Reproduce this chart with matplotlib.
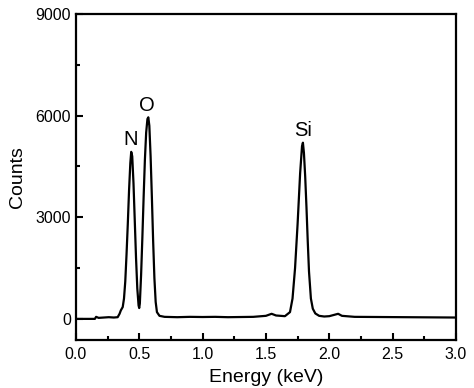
import matplotlib
matplotlib.use('Agg')
from matplotlib import pyplot as plt
from matplotlib.ticker import MultipleLocator, FormatStrFormatter

# EDS spectrum
energy = [0.00, 0.10, 0.15, 0.16, 0.18, 0.22, 0.26, 0.30, 0.33, 0.345,
          0.355, 0.37, 0.38, 0.39, 0.40, 0.41, 0.42, 0.43, 0.437, 0.445,
          0.455, 0.465, 0.475, 0.485, 0.495, 0.50, 0.505, 0.515, 0.525, 0.535,
          0.545, 0.555, 0.565, 0.572, 0.58, 0.59, 0.60, 0.61, 0.62, 0.63,
          0.64, 0.66, 0.70, 0.80, 0.90, 1.00, 1.10, 1.20, 1.30, 1.40,
          1.50, 1.545, 1.58, 1.65, 1.69, 1.71, 1.73, 1.75, 1.77, 1.785,
          1.792, 1.80, 1.81, 1.82, 1.83, 1.84, 1.855, 1.87, 1.89, 1.92,
          1.96, 2.00, 2.04, 2.07, 2.10, 2.20, 2.40, 2.60, 2.80, 3.00]
counts = [0, 0, 0, 60, 30, 40, 50, 40, 50, 150,
          250, 350, 600, 1100, 1900, 2800, 3800, 4600, 4930, 4800,
          4000, 2900, 1800, 900, 400, 320, 450, 1300, 2400, 3600,
          4700, 5500, 5900, 5950, 5700, 4800, 3600, 2300, 1200, 500,
          200, 90, 60, 50, 60, 55, 60, 50, 55, 60,
          90, 150, 100, 80, 200, 600, 1500, 2800, 4300, 5100,
          5200, 4900, 4200, 3300, 2300, 1400, 600, 300, 160, 90,
          70, 80, 120, 150, 90, 60, 55, 50, 45, 40]

peak_names = ['N', 'O', 'Si']
peak_x = [0.432, 0.563, 1.79]
peak_y = [5280, 6310, 5575]

plt.rcParams['font.family'] = ['Liberation Sans', 'DejaVu Sans']

fig = plt.figure(dpi=100, figsize=(4.74, 3.88))
ax = fig.add_axes([0.160, 0.124, 0.802, 0.840])
ax.plot(energy, counts, c='black', lw=1.6)

for name, x, y in zip(peak_names, peak_x, peak_y):
    ax.text(x, y, name, fontsize=14.5, ha='center', va='center')

ax.set_xlim(0, 3.0)
ax.set_ylim(-620, 9000)
ax.xaxis.set_major_locator(MultipleLocator(0.5))
ax.xaxis.set_minor_locator(MultipleLocator(0.25))
ax.yaxis.set_major_locator(MultipleLocator(3000))
ax.yaxis.set_minor_locator(MultipleLocator(1500))
ax.xaxis.set_major_formatter(FormatStrFormatter('%.1f'))
ax.tick_params(axis='both', which='major', direction='in', length=5, width=1.5, labelsize=11.5)
ax.tick_params(axis='x', which='major', pad=5)
ax.tick_params(axis='both', which='minor', direction='in', length=3, width=1.5)
for s in ax.spines.values():
    s.set_linewidth(1.6)

ax.set_xlabel('Energy (keV)', fontsize=14, labelpad=5)
ax.set_ylabel('Counts', fontsize=14, labelpad=7)

plt.savefig('out.png')
